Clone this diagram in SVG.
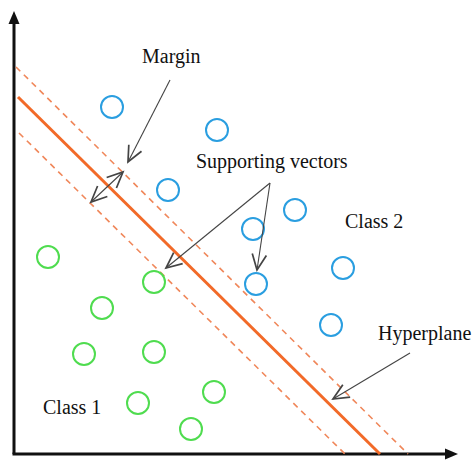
<svg xmlns="http://www.w3.org/2000/svg" width="474" height="474" viewBox="0 0 474 474">
<style>
.blue{fill:none;stroke:#2a9ee0;stroke-width:2}
.green{fill:none;stroke:#4fdc4f;stroke-width:2}
.lbl{font-family:"Liberation Serif","Times New Roman",serif;font-size:20px;fill:#111}
.axis{stroke:#111;stroke-width:3;fill:none}
.hyper{stroke:#f26a28;stroke-width:3;fill:none}
.marg{stroke:#f0875a;stroke-width:1.6;fill:none;stroke-dasharray:6,5}
.ptr{stroke:#444;stroke-width:1.1;fill:none}
</style>
<defs>
<marker id="v" markerUnits="userSpaceOnUse" markerWidth="20" markerHeight="20" refX="0" refY="0" viewBox="-12 -6 14 12" orient="auto-start-reverse" overflow="visible">
<path d="M-11,-5 L0,0 L-11,5" fill="none" stroke="#444" stroke-width="1.2"/>
</marker>
</defs>
<rect width="474" height="474" fill="#fff"/>
<g id="axes">
<line class="axis" x1="14" y1="22" x2="14" y2="454"/>
<line class="axis" x1="12.5" y1="454" x2="446" y2="454"/>
<polygon points="14,11 8.5,24 19.5,24" fill="#111"/>
<polygon points="458,454 445,448.5 445,459.5" fill="#111"/>
</g>
<g id="planes">
<line class="marg" x1="16" y1="67" x2="408" y2="454"/>
<line class="hyper" x1="18" y1="97" x2="380" y2="454"/>
<line class="marg" x1="19" y1="133" x2="345" y2="454"/>
</g>
<g id="class2">
<circle class="blue" cx="112" cy="107" r="11"/>
<circle class="blue" cx="217" cy="130" r="11"/>
<circle class="blue" cx="168" cy="190" r="11"/>
<circle class="blue" cx="295" cy="210" r="11"/>
<circle class="blue" cx="253" cy="229" r="11"/>
<circle class="blue" cx="343" cy="268" r="11"/>
<circle class="blue" cx="256" cy="284" r="11"/>
<circle class="blue" cx="331" cy="325" r="11"/>
</g>
<g id="class1">
<circle class="green" cx="48" cy="257" r="11"/>
<circle class="green" cx="154" cy="282" r="11"/>
<circle class="green" cx="102" cy="308" r="11"/>
<circle class="green" cx="84" cy="354" r="11"/>
<circle class="green" cx="154" cy="352" r="11"/>
<circle class="green" cx="214" cy="392" r="11"/>
<circle class="green" cx="138" cy="403" r="11"/>
<circle class="green" cx="191" cy="429" r="11"/>
</g>
<g id="labels">
<text class="lbl" x="142" y="63">Margin</text>
<text class="lbl" x="196" y="168">Supporting vectors</text>
<text class="lbl" x="345" y="228">Class 2</text>
<text class="lbl" x="43" y="414">Class 1</text>
<text class="lbl" x="378" y="340">Hyperplane</text>
</g>
<g id="connectors">
<line class="ptr" x1="170" y1="80" x2="128" y2="162" marker-end="url(#v)"/>
<line class="ptr" x1="91" y1="202" x2="123" y2="172" marker-start="url(#v)" marker-end="url(#v)"/>
<line class="ptr" x1="270" y1="183" x2="166" y2="268" marker-end="url(#v)"/>
<line class="ptr" x1="270" y1="183" x2="257" y2="270" marker-end="url(#v)"/>
<line class="ptr" x1="410" y1="353" x2="333" y2="399" marker-end="url(#v)"/>
</g>
</svg>
